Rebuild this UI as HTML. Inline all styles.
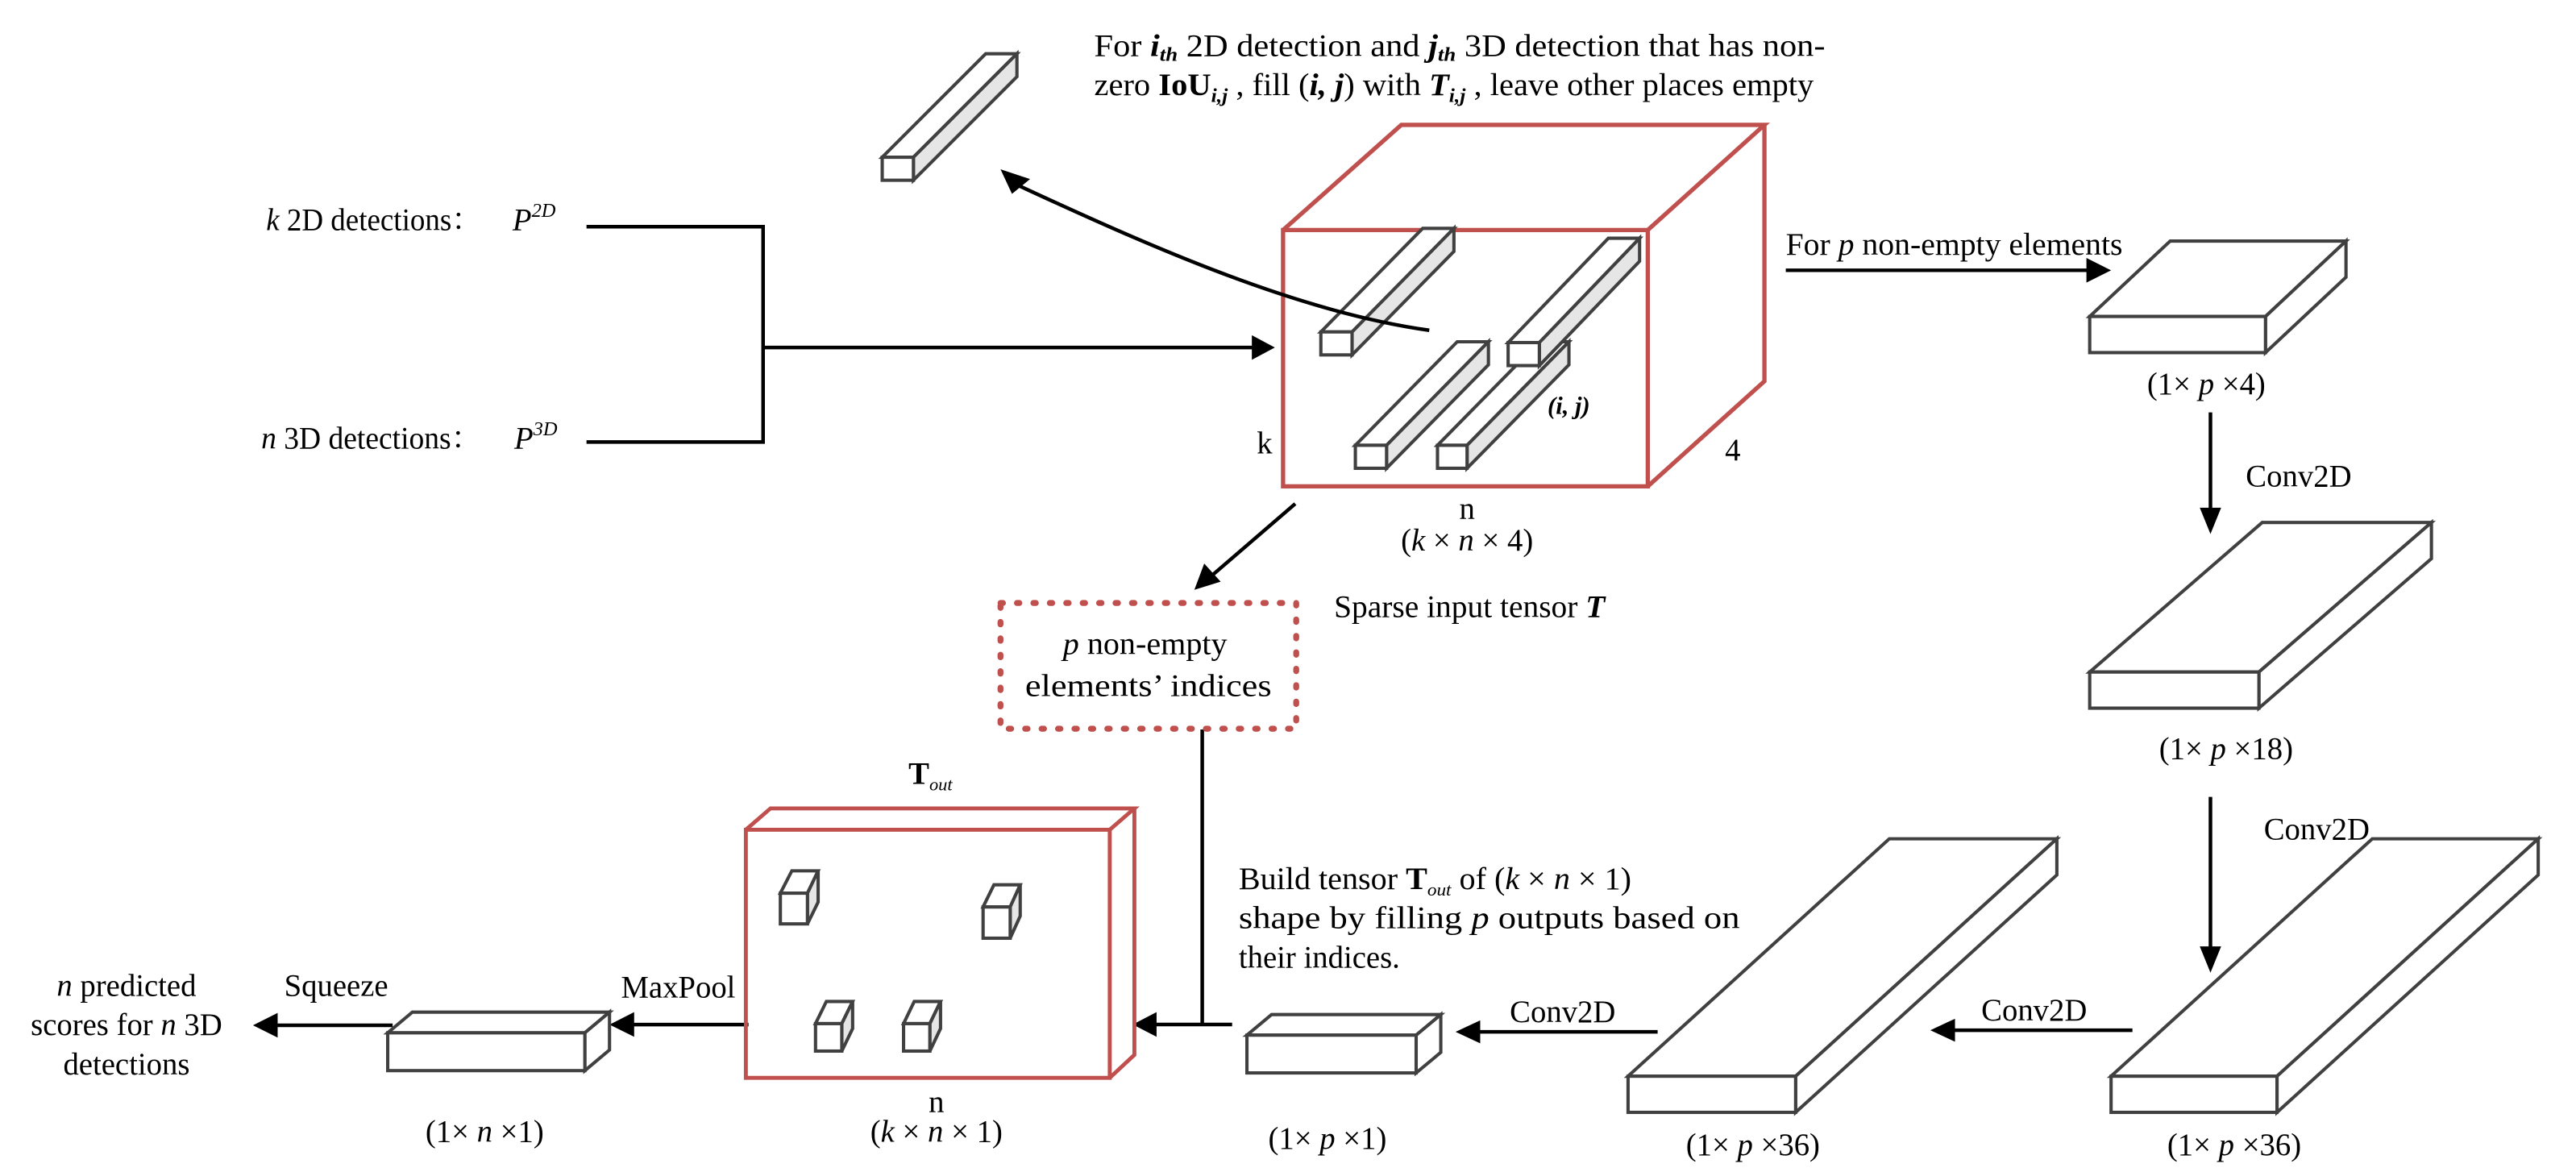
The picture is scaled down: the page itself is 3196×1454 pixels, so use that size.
<!DOCTYPE html>
<html><head><meta charset="utf-8"><style>
html,body{margin:0;padding:0;background:#fff;}
svg{display:block;}
text{font-family:"Liberation Serif","Noto Serif CJK SC",serif;fill:#000;}
</style></head><body>
<svg width="3196" height="1454" viewBox="0 0 1568 713.3" preserveAspectRatio="none" xmlns="http://www.w3.org/2000/svg">
<rect width="1568" height="713.3" fill="#fff"/>

<g font-size="19">
<!-- top text -->
<text x="666" y="34" textLength="445" lengthAdjust="spacingAndGlyphs">For <tspan font-style="italic" font-weight="bold">i</tspan><tspan font-style="italic" font-weight="bold" font-size="12" dy="3">th</tspan><tspan dy="-3"> 2D detection and </tspan><tspan font-style="italic" font-weight="bold">j</tspan><tspan font-style="italic" font-weight="bold" font-size="12" dy="3">th</tspan><tspan dy="-3"> 3D detection that has non-</tspan></text>
<text x="666" y="58" textLength="438" lengthAdjust="spacingAndGlyphs">zero <tspan font-weight="bold">IoU</tspan><tspan font-style="italic" font-weight="bold" font-size="12" dy="4">i,j</tspan><tspan dy="-4"> , fill (</tspan><tspan font-style="italic" font-weight="bold">i, j</tspan>) with <tspan font-style="italic" font-weight="bold">T</tspan><tspan font-style="italic" font-weight="bold" font-size="12" dy="4">i,j</tspan><tspan dy="-4"> , leave other places empty</tspan></text>

<!-- left labels -->
<text x="162" y="140" textLength="131" lengthAdjust="spacingAndGlyphs"><tspan font-style="italic">k</tspan> 2D detections：</text>
<text x="312" y="140" font-style="italic">P<tspan font-size="12" dy="-8">2D</tspan></text>
<text x="159" y="273" textLength="134" lengthAdjust="spacingAndGlyphs"><tspan font-style="italic">n</tspan> 3D detections：</text>
<text x="313" y="273" font-style="italic">P<tspan font-size="12" dy="-8">3D</tspan></text>

<!-- cube labels -->
<text x="765" y="276">k</text>
<text x="1050" y="280">4</text>
<text x="893" y="316" text-anchor="middle">n</text>
<text x="893" y="335" text-anchor="middle">(<tspan font-style="italic">k</tspan> × <tspan font-style="italic">n</tspan> × 4)</text>
<text x="942" y="252" font-size="15" font-style="italic" font-weight="bold">(i, j)</text>

<text x="1087" y="155" textLength="205" lengthAdjust="spacingAndGlyphs">For <tspan font-style="italic">p</tspan> non-empty elements</text>
<text x="812" y="375.5" textLength="165" lengthAdjust="spacingAndGlyphs">Sparse input tensor <tspan font-style="italic" font-weight="bold">T</tspan></text>

<text x="647" y="398" textLength="100" lengthAdjust="spacingAndGlyphs"><tspan font-style="italic">p</tspan> non-empty</text>
<text x="624" y="423.7" textLength="150" lengthAdjust="spacingAndGlyphs">elements’  indices</text>

<text x="1343" y="240" text-anchor="middle">(1× <tspan font-style="italic">p</tspan> ×4)</text>
<text x="1367" y="296">Conv2D</text>
<text x="1355" y="462" text-anchor="middle">(1× <tspan font-style="italic">p</tspan> ×18)</text>
<text x="1378" y="511">Conv2D</text>
<text x="1360" y="703" text-anchor="middle">(1× <tspan font-style="italic">p</tspan> ×36)</text>
<text x="1206" y="621">Conv2D</text>
<text x="1067" y="703" text-anchor="middle">(1× <tspan font-style="italic">p</tspan> ×36)</text>
<text x="919" y="622">Conv2D</text>
<text x="808" y="699" text-anchor="middle">(1× <tspan font-style="italic">p</tspan> ×1)</text>

<text x="754" y="541" textLength="239" lengthAdjust="spacingAndGlyphs">Build tensor <tspan font-weight="bold">T</tspan><tspan font-style="italic" font-size="11" dy="4">out</tspan><tspan dy="-4"> of (</tspan><tspan font-style="italic">k</tspan> × <tspan font-style="italic">n</tspan> × 1)</text>
<text x="754" y="565" textLength="305" lengthAdjust="spacingAndGlyphs">shape by filling <tspan font-style="italic">p</tspan> outputs based on</text>
<text x="754" y="589">their indices.</text>

<text x="553" y="477" font-weight="bold">T<tspan font-style="italic" font-weight="normal" font-size="11" dy="4">out</tspan></text>
<text x="378" y="607">MaxPool</text>
<text x="173" y="606">Squeeze</text>
<text x="77" y="606" text-anchor="middle"><tspan font-style="italic">n</tspan> predicted</text>
<text x="77" y="630" text-anchor="middle">scores for <tspan font-style="italic">n</tspan> 3D</text>
<text x="77" y="654" text-anchor="middle">detections</text>
<text x="295" y="695" text-anchor="middle">(1× <tspan font-style="italic">n</tspan> ×1)</text>
<text x="570" y="677" text-anchor="middle">n</text>
<text x="570" y="695" text-anchor="middle">(<tspan font-style="italic">k</tspan> × <tspan font-style="italic">n</tspan> × 1)</text>
</g>

<!-- connectors -->
<g stroke="#000" stroke-width="2.2" fill="none">
<path d="M357 138 H464.5 V269 H357"/>
<path d="M464.5 211.5 H764"/>
<path d="M1087 164.5 H1272"/>
<path d="M1345.5 251 V311"/>
<path d="M1345.5 485 V578"/>
<path d="M1298 627 H1188"/>
<path d="M1009 628 H900"/>
<path d="M788.4 306.6 L738 350"/>
<path d="M731.8 444 V623.5 M750 623.5 H702"/>
<path d="M455.6 623.6 H384"/>
<path d="M239 624 H168"/>
</g>
<g fill="#000">
<path d="M776 211.5 L762 204 L762 219 Z"/>
<path d="M1285 164.5 L1270 157 L1270 172 Z"/>
<path d="M1345.5 325 L1339 309 L1352 309 Z"/>
<path d="M1345.5 592 L1339 576 L1352 576 Z"/>
<path d="M1175 627 L1190 620 L1190 634 Z"/>
<path d="M886 628 L901 621 L901 635 Z"/>
<path d="M727 359 L733 343 L743 354 Z"/>
<path d="M689.5 623.5 L704 616 L704 631 Z"/>
<path d="M371 623.6 L386 616 L386 631 Z"/>
<path d="M154 624 L169 616.5 L169 631.5 Z"/>
</g>

<!-- dashed box -->
<rect x="609" y="367" width="180" height="76.5" fill="none" stroke="#c0504d" stroke-width="3.6" stroke-linecap="round" stroke-dasharray="1.5 8.5"/>

<!-- gray boxes -->
<g stroke="#404040" stroke-width="2" stroke-linejoin="miter" fill="#fff">
<path d="M1272 192.6 L1321 146.7 H1428 L1379 192.6 Z"/><path d="M1379 192.6 L1428 146.7 V168.7 L1379 214.6 Z"/><rect x="1272" y="192.6" width="107" height="22"/>
<path d="M1272 409 L1377 318 H1480 L1375 409 Z"/><path d="M1375 409 L1480 318 V340 L1375 431 Z"/><rect x="1272" y="409" width="103" height="22"/>
<path d="M1285 655 L1444 510.5 H1545 L1386 655 Z"/><path d="M1386 655 L1545 510.5 V532.5 L1386 677 Z"/><rect x="1285" y="655" width="101" height="22"/>
<path d="M991 655 L1150 510.5 H1252 L1093 655 Z"/><path d="M1093 655 L1252 510.5 V532.5 L1093 677 Z"/><rect x="991" y="655" width="102" height="22"/>
<path d="M759 630 L774 617.5 H877 L862 630 Z"/><path d="M862 630 L877 617.5 V640.5 L862 653 Z"/><rect x="759" y="630" width="103" height="23"/>
<path d="M236 628.6 L251 616 H371 L356 628.6 Z"/><path d="M356 628.6 L371 616 V639 L356 651.6 Z"/><rect x="236" y="628.6" width="120" height="23"/>
<path d="M537 95.7 L600 32.7 H619 L556 95.7 Z"/><path d="M556 95.7 L619 32.7 V46.7 L556 109.7 Z" fill="#e6e6e6"/><rect x="537" y="95.7" width="19" height="14"/>
</g>

<!-- main cube -->
<g stroke="#c0504d" stroke-width="2.6" fill="none" stroke-linejoin="miter">
<path d="M781 140 L853 76 H1074 L1003 140"/>
<path d="M1074 76 V232 L1003 296"/>
<rect x="781" y="140" width="222" height="156"/>
</g>
<g stroke="#404040" stroke-width="2" fill="#fff">
<path d="M804 202 L866 139 H885 L823 202 Z"/><path d="M823 202 L885 139 V153 L823 216 Z" fill="#e6e6e6"/><rect x="804" y="202" width="19" height="14"/>
<path d="M825 271 L887 208 H906 L844 271 Z"/><path d="M844 271 L906 208 V222 L844 285 Z" fill="#e6e6e6"/><rect x="825" y="271" width="19" height="14"/>
<path d="M875 271 L937 208 H955 L893 271 Z"/><path d="M893 271 L955 208 V222 L893 285 Z" fill="#e6e6e6"/><rect x="875" y="271" width="18" height="14"/>
<path d="M918 208.5 L979 145 H998 L937 208.5 Z"/><path d="M937 208.5 L998 145 V159 L937 222.5 Z" fill="#e6e6e6"/><rect x="918" y="208.5" width="19" height="14"/>
</g>
<path d="M870 201 C790 190 700 150 618 112" stroke="#000" stroke-width="2.2" fill="none"/>
<path d="M609 103 L627 109 L616 118 Z" fill="#000"/>

<!-- Tout -->
<g stroke="#c0504d" stroke-width="2.4" fill="none">
<path d="M454 505 L469 492 H690.5 L675.5 505"/>
<path d="M690.5 492 V642 L675.5 656"/>
<rect x="454" y="505" width="221.5" height="151"/>
</g>
<g stroke="#404040" stroke-width="2" fill="#fff">
<path d="M475 543.6 L482 530 H498 L491.5 543.6 Z"/><path d="M491.5 543.6 L498 530 V549 L491.5 562.3 Z" fill="#e6e6e6"/><rect x="475" y="543.6" width="16.5" height="18.7"/>
<path d="M598.4 552 L605 538.5 H621 L614.9 552 Z"/><path d="M614.9 552 L621 538.5 V557.5 L614.9 571 Z" fill="#e6e6e6"/><rect x="598.4" y="552" width="16.5" height="19"/>
<path d="M496.4 623 L503 609.5 H519 L512.4 623 Z"/><path d="M512.4 623 L519 609.5 V626 L512.4 639.7 Z" fill="#e6e6e6"/><rect x="496.4" y="623" width="16" height="16.7"/>
<path d="M550 623 L556.5 609.5 H572.5 L566 623 Z"/><path d="M566 623 L572.5 609.5 V626 L566 639.7 Z" fill="#e6e6e6"/><rect x="550" y="623" width="16" height="16.7"/>
</g>
</svg>
</body></html>
